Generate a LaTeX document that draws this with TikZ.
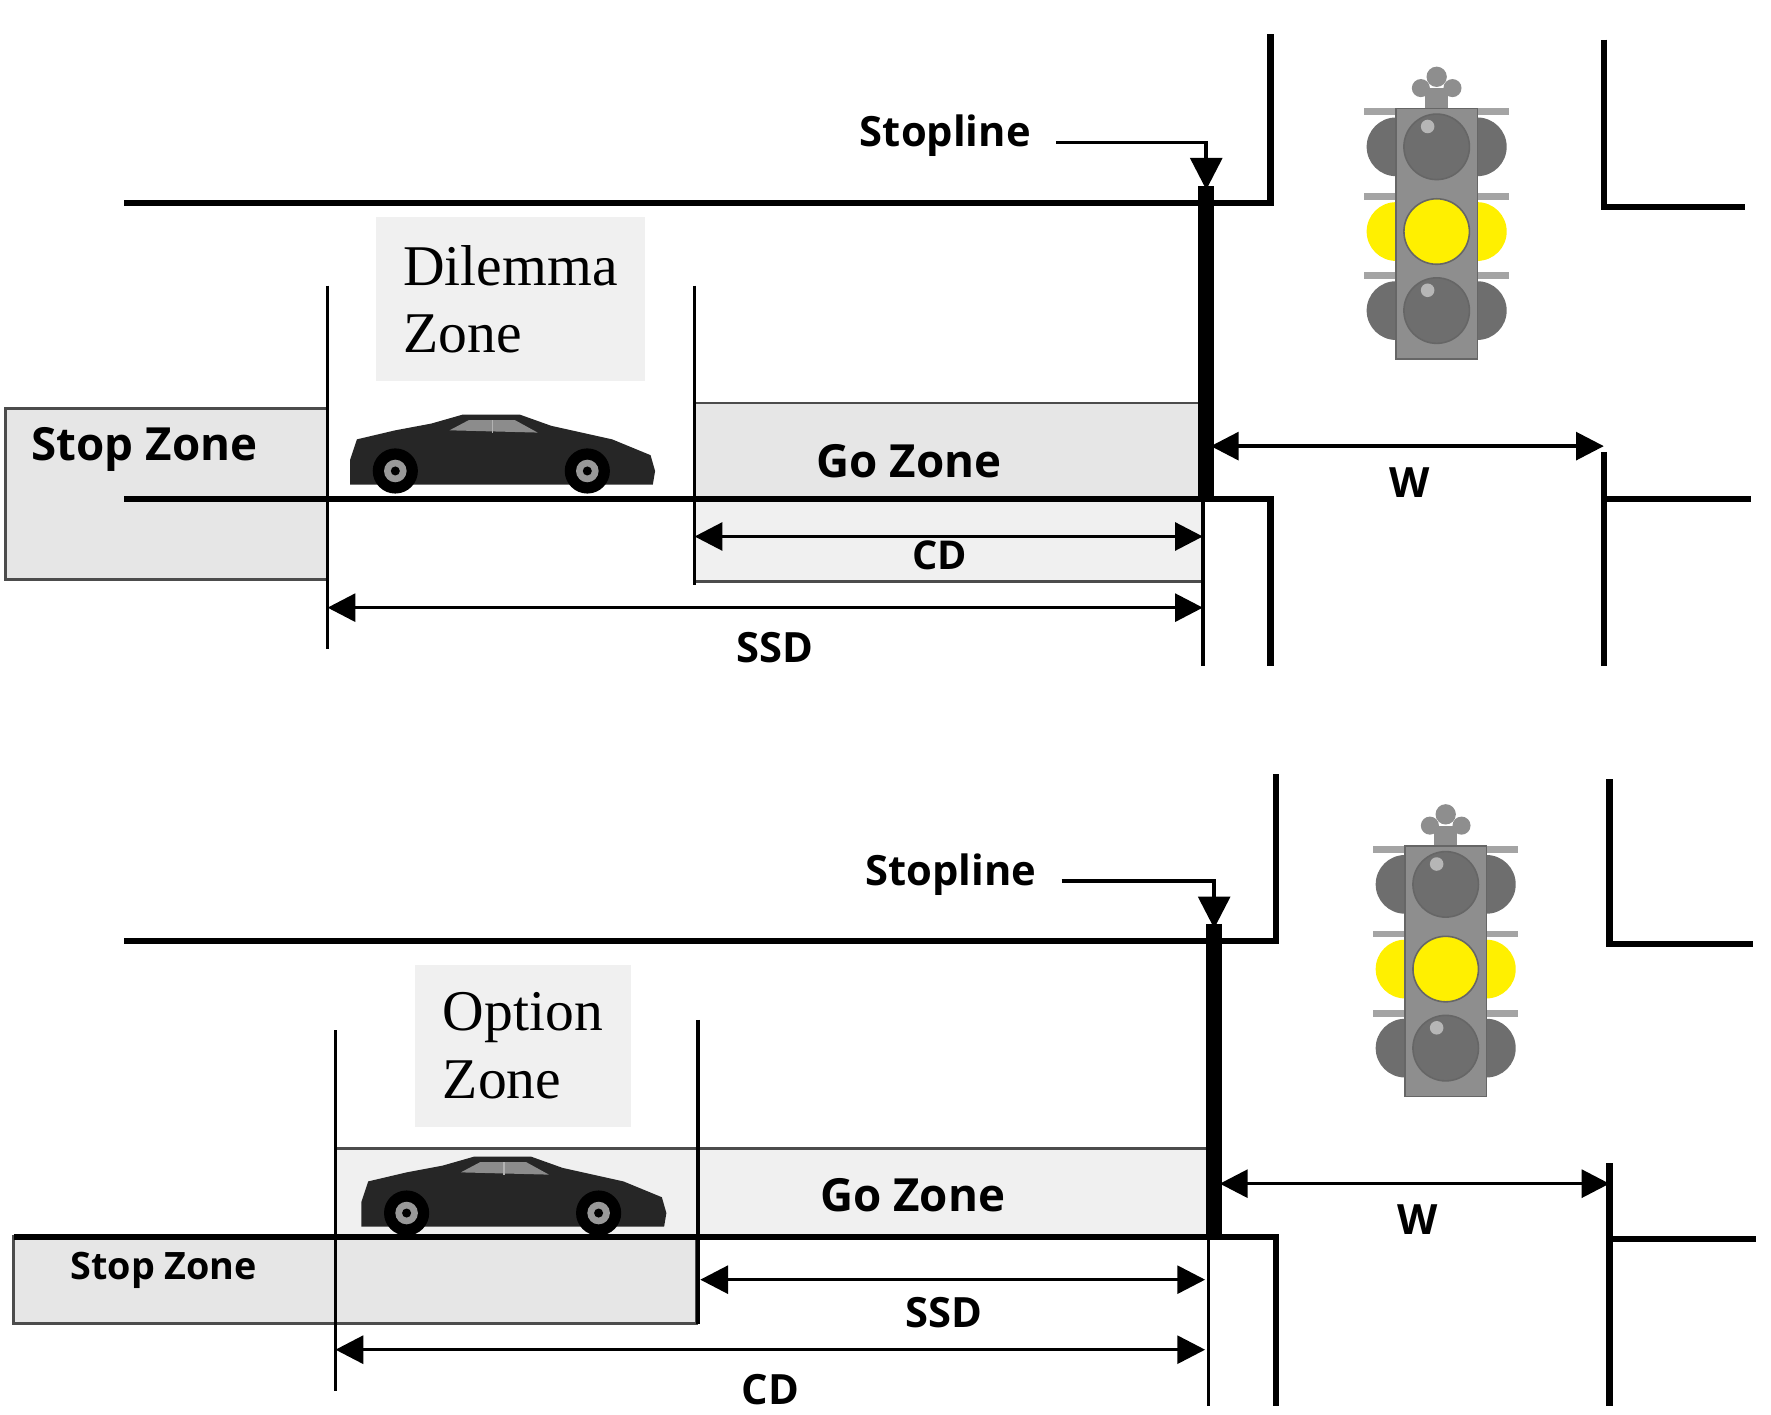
\documentclass[tikz,border=0pt]{standalone}
\usepackage{fontspec}
\setmainfont{Liberation Serif}
\newfontfamily\lab{Open Sans}
\usetikzlibrary{arrows.meta}
\definecolor{zone}{HTML}{E6E6E6}
\definecolor{zonel}{HTML}{F0F0F0}
\definecolor{lampgray}{HTML}{6E6E6E}
\definecolor{house}{HTML}{8E8E8E}
\definecolor{yel}{HTML}{FFF000}
\tikzset{
  road/.style={line width=1.6pt},
  thin/.style={line width=0.9pt},
  zonebox/.style={draw=black!70, line width=0.8pt, fill=zone},
  dim/.style={line width=0.9pt, {Triangle[length=7pt,width=7pt]}-{Triangle[length=7pt,width=7pt]}},
  lbl/.style={font=\lab\fontseries{sb}\selectfont\fontsize{10.5}{12}\selectfont},
  serifl/.style={font=\fontsize{14.5}{17}\selectfont, align=left, fill=zonel, inner sep=7pt},
  pics/car/.style={code={
    \fill[black!85] (0,40) -- (6,22) -- (40,14) -- (72,8) -- (100,0) -- (150,0) -- (178,10) -- (232,22) -- (266,36) -- (270,50) -- (268,62) -- (0,62) -- cycle;
    \fill[black!45] (88,14) -- (105,5) -- (146,5) -- (166,16) -- cycle;
    \draw[black!30] (126,5) -- (126,16);
    \foreach \cx in {40,210}{\fill[black] (\cx,50) circle (20); \fill[black!40] (\cx,50) circle (10); \fill[black] (\cx,50) circle (4);}
  }},
  pics/tlight/.style={code={
    \foreach \yy/\c in {70/lampgray,145/yel,215/lampgray}{
      \fill[\c] (-36,\yy) circle (26); \fill[\c] (36,\yy) circle (26);
      \fill[house!80] (-64,\yy-34) rectangle (64,\yy-28);}
    \fill[house] (0,8) circle (9); \fill[house] (-14,18) circle (8); \fill[house] (14,18) circle (8);
    \fill[house] (-10,18) rectangle (10,36);
    \filldraw[fill=house, draw=black!60] (-36,36) rectangle (36,258);
    \foreach \yy/\c in {70/lampgray,145/yel,215/lampgray}{
      \filldraw[fill=\c, draw=black!60] (0,\yy) circle (29);}
    \fill[white, opacity=.5] (-8,52) circle (6); \fill[white, opacity=.5] (-8,197) circle (6);
  }}
}
\begin{document}
\begin{tikzpicture}[x=0.01cm,y=-0.01cm]
\useasboundingbox (0,0) rectangle (1568,1252);
% ---------------- top panel
\filldraw[zonebox] (5,362) rectangle (290,513);
\node[lbl, font=\lab\fontseries{sb}\selectfont\fontsize{11.5}{13}\selectfont] (sz1t) at (128,398) {Stop Zone};
\filldraw[draw=black!70, line width=0.8pt, fill=zonel] (615,357) rectangle (1065,515);
\fill[zone] (616,358) rectangle (1064,442);
\node[lbl, font=\lab\fontseries{sb}\selectfont\fontsize{11.5}{13}\selectfont] (gz1t) at (805,408) {Go Zone};
\node[serifl] (dz1) at (452,265) {Dilemma\\Zone};
\draw[road] (110,180) -- (1125,180) -- (1125,30);
\draw[road] (1420,35) -- (1420,183) -- (1545,183);
\draw[road] (110,442) -- (1125,442) -- (1125,590);
\draw[road] (1420,400) -- (1420,590);
\draw[road] (1420,442) -- (1550,442);
\draw[thin] (290,253) -- (290,575);
\draw[thin] (615,253) -- (615,518);
\draw[thin] (1065,442) -- (1065,590);
\draw[line width=4pt] (1068,165) -- (1068,442);
\node[lbl, anchor=east] (st1) at (925,120) {Stopline};
\coordinate (st1s) at (935,126);
\coordinate (st1a) at (1068,126);
\draw[thin, -{Triangle[length=8pt,width=8pt]}] (st1s) -- (st1a) -- (1068,168);
\coordinate (cd1a) at (615,475); \coordinate (cd1b) at (1065,475);
\draw[dim] (cd1a) -- (cd1b);
\node[lbl, font=\lab\fontseries{sb}\selectfont\fontsize{10}{12}\selectfont] (cd1) at (832,492) {CD};
\coordinate (ss1a) at (290,538); \coordinate (ss1b) at (1065,538);
\draw[dim] (ss1a) -- (ss1b);
\node[lbl] (ss1) at (686,573) {SSD};
\coordinate (w1a) at (1072,395); \coordinate (w1b) at (1420,395);
\draw[dim] (w1a) -- (w1b);
\node[lbl] (w1) at (1248,427) {W};
\pic at (310,367) {car};
\pic at (1272,60) {tlight};
% ---------------- bottom panel
\filldraw[zonebox] (12,1095) rectangle (617,1172);
\node[lbl, font=\lab\fontseries{sb}\selectfont\fontsize{9.5}{11}\selectfont] (sz2t) at (145,1125) {Stop Zone};
\filldraw[draw=black!70, line width=0.8pt, fill=zonel] (297,1017) rectangle (1070,1095);
\node[lbl, font=\lab\fontseries{sb}\selectfont\fontsize{11.5}{13}\selectfont] (gz2t) at (808,1058) {Go Zone};
\node[serifl] (oz2) at (463,926) {Option\\Zone};
\draw[road] (110,833) -- (1130,833) -- (1130,685);
\draw[road] (1425,690) -- (1425,836) -- (1552,836);
\draw[road] (12,1095) -- (1130,1095) -- (1130,1245);
\draw[road] (1425,1030) -- (1425,1245);
\draw[road] (1425,1097) -- (1555,1097);
\draw[thin] (297,912) -- (297,1232);
\draw[thin] (618,903) -- (618,1172);
\draw[thin] (1070,1095) -- (1070,1245);
\draw[line width=4pt] (1075,818) -- (1075,1097);
\node[lbl, anchor=east] (st2) at (930,774) {Stopline};
\coordinate (st2s) at (940,780);
\coordinate (st2a) at (1075,780);
\draw[thin, -{Triangle[length=8pt,width=8pt]}] (st2s) -- (st2a) -- (1075,822);
\coordinate (ss2a) at (620,1133); \coordinate (ss2b) at (1067,1133);
\draw[dim] (ss2a) -- (ss2b);
\node[lbl] (ss2) at (836,1162) {SSD};
\coordinate (cd2a) at (297,1195); \coordinate (cd2b) at (1067,1195);
\draw[dim] (cd2a) -- (cd2b);
\node[lbl] (cd2) at (682,1230) {CD};
\coordinate (w2a) at (1080,1048); \coordinate (w2b) at (1425,1048);
\draw[dim] (w2a) -- (w2b);
\node[lbl] (w2) at (1255,1080) {W};
\pic at (320,1024) {car};
\pic at (1280,713) {tlight};
\end{tikzpicture}
\end{document}
